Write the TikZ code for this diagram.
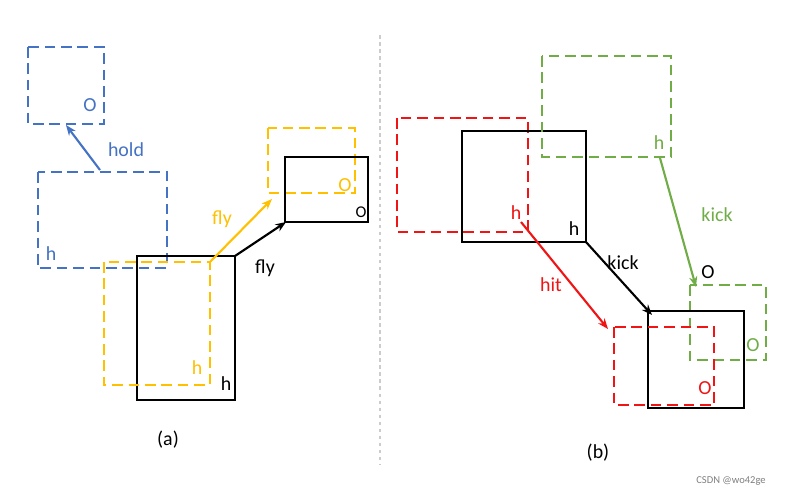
\documentclass[tikz,border=0pt]{standalone}
\usepackage{fontspec}
\usetikzlibrary{arrows.meta}
\setmainfont{Carlito}
\definecolor{cblue}{RGB}{68,114,196}
\definecolor{cyel}{RGB}{255,192,0}
\definecolor{cgreen}{RGB}{112,173,71}
\definecolor{cred}{RGB}{240,20,20}
\begin{document}
\begin{tikzpicture}[x=0.03cm,y=-0.03cm,
  dbox/.style={dashed,dash pattern=on 9pt off 5pt,line width=1.8pt},
  sbox/.style={draw=black,line width=1.8pt},
  arr/.style={-{Stealth[length=9pt,width=7pt]},line width=1.8pt},
  lab/.style={font=\fontsize{17}{20}\selectfont,inner sep=0pt}]
\useasboundingbox (0,0) rectangle (791,497);
\fill[white] (0,0) rectangle (791,497);
% divider
\draw[gray!40,dashed,line width=1.5pt] (380,35) -- (380,465);
% left panel
\draw[dbox,cblue] (28,47) rectangle (104,124) coordinate (b1);
\node[lab,cblue] (bo) at (90,105) {O};
\draw[dbox,cblue] (38,172) rectangle (167,268);
\node[lab,cblue] (bh) at (51,254) {h};
\coordinate (bs) at (100,170); \coordinate (be) at (66,125);
\draw[arr,cblue] (bs) -- (be);
\node[lab,cblue] (hold) at (126,150) {hold};
\draw[sbox] (137,256) rectangle (235,400);
\node[lab] (kh) at (226,384) {h};
\draw[dbox,cyel] (104,262) rectangle (210,385);
\node[lab,cyel] (yh) at (197,368) {h};
\draw[dbox,cyel] (268,128) rectangle (355,193);
\node[lab,cyel] (yo) at (345,185) {O};
\draw[sbox] (285,157) rectangle (368,222);
\node[lab,font=\fontsize{14}{16}\selectfont] (ko) at (361,212) {O};
\coordinate (ys) at (210,262); \coordinate (ye) at (272,199);
\draw[arr,cyel] (ys) -- (ye);
\node[lab,cyel] (yfly) at (222,219) {fly};
\coordinate (ks) at (235,256); \coordinate (ke) at (286,222);
\draw[arr] (ks) -- (ke);
\node[lab] (kfly) at (265,268) {fly};
\node[lab] (a) at (168,440) {(a)};
% right panel
\draw[dbox,cred] (397,118) rectangle (528,232);
\draw[sbox] (462,131) rectangle (586,242);
\node[lab] (rh) at (574,229) {h};
\draw[dbox,cgreen] (542,56) rectangle (671,157);
\node[lab,cgreen] (gh) at (659,143) {h};
\coordinate (gs) at (660,158); \coordinate (ge) at (696,287);
\draw[arr,cgreen] (gs) -- (ge);
\node[lab,cgreen] (gkick) at (717,215) {kick};
\node[lab] (bko) at (708,272) {O};
\draw[dbox,cgreen] (690,285) rectangle (766,360);
\node[lab,cgreen] (go) at (753,345) {O};
\draw[sbox] (648,311) rectangle (744,408);
\draw[dbox,cred] (614,327) rectangle (714,405);
\node[lab,cred] (ro) at (705,388) {O};
\node[lab,cred] (rh2) at (516,213) {h};
\coordinate (rs) at (521,222); \coordinate (re) at (608,329);
\draw[arr,cred] (rs) -- (re);
\node[lab,cred] (hit) at (551,285) {hit};
\coordinate (k2s) at (586,242); \coordinate (k2e) at (652,315);
\draw[arr] (k2s) -- (k2e);
\node[lab] (kick) at (623,263) {kick};
\node[lab] (b) at (598,453) {(b)};
\node[lab,gray,font=\fontsize{9}{11}\selectfont] (wm) at (731,481) {CSDN @wo42ge};
\end{tikzpicture}
\end{document}
